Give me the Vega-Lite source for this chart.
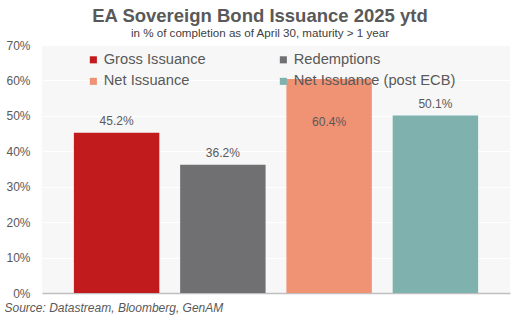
{
  "$schema": "https://vega.github.io/schema/vega-lite/v6.json",
  "width": 468,
  "height": 248,
  "autosize": {"type": "none"},
  "padding": {"left": 42, "top": 45, "right": 2, "bottom": 29},
  "background": "white",
  "title": {
    "text": "EA Sovereign Bond Issuance 2025 ytd",
    "subtitle": "in % of completion as of April 30, maturity > 1 year",
    "anchor": "middle",
    "frame": "group",
    "dx": -16,
    "offset": -1,
    "font": "Liberation Sans",
    "fontSize": 18.5,
    "fontWeight": "bold",
    "color": "#595959",
    "subtitleFont": "Liberation Sans",
    "subtitleFontSize": 11.6,
    "subtitleColor": "#404040",
    "subtitlePadding": 3
  },
  "data": {
    "values": [
      {"series": "Gross Issuance", "share": 0.452},
      {"series": "Redemptions", "share": 0.362},
      {"series": "Net Issuance", "share": 0.604},
      {"series": "Net Issuance (post ECB)", "share": 0.501}
    ]
  },
  "encoding": {
    "x": {
      "field": "series",
      "type": "nominal",
      "sort": null,
      "scale": {"paddingInner": 0.196, "paddingOuter": 0.3},
      "axis": {
        "labels": false,
        "ticks": false,
        "domain": true,
        "domainColor": "#bfbfbf",
        "domainWidth": 1.5,
        "grid": false,
        "title": "Source: Datastream, Bloomberg, GenAM",
        "titleFont": "Liberation Sans",
        "titleFontSize": 12,
        "titleFontStyle": "italic",
        "titleFontWeight": "normal",
        "titleColor": "#595959",
        "titleAnchor": "start",
        "titleAlign": "left",
        "titleBaseline": "middle",
        "titleX": -38,
        "titleY": 14
      }
    },
    "y": {
      "field": "share",
      "type": "quantitative",
      "scale": {"domain": [0, 0.7], "nice": false},
      "axis": {
        "values": [0, 0.1, 0.2, 0.3, 0.4, 0.5, 0.6, 0.7],
        "format": ".0%",
        "title": null,
        "domain": false,
        "ticks": false,
        "labelPadding": 12,
        "labelFont": "Liberation Sans",
        "labelFontSize": 12,
        "labelColor": "#595959",
        "gridColor": "#ffffff",
        "gridWidth": 1
      }
    }
  },
  "layer": [
    {
      "mark": {"type": "bar"},
      "encoding": {
        "color": {
          "field": "series",
          "type": "nominal",
          "sort": null,
          "scale": {
            "domain": ["Gross Issuance", "Redemptions", "Net Issuance", "Net Issuance (post ECB)"],
            "range": ["#c11b1e", "#707072", "#f09274", "#7fb2af"]
          },
          "legend": {
            "title": null,
            "orient": "none",
            "legendX": 44,
            "legendY": 7,
            "direction": "horizontal",
            "columns": 2,
            "columnPadding": 70,
            "rowPadding": 6,
            "padding": 0,
            "symbolType": "square",
            "symbolSize": 50,
            "symbolStrokeWidth": 0,
            "labelOffset": 3,
            "labelFont": "Liberation Sans",
            "labelFontSize": 14.7,
            "labelColor": "#595959",
            "labelLimit": 300
          }
        }
      }
    },
    {
      "transform": [{"filter": "datum.series !== 'Net Issuance'"}],
      "mark": {
        "type": "text",
        "baseline": "bottom",
        "dy": -5,
        "font": "Liberation Sans",
        "fontSize": 12,
        "color": "#595959"
      },
      "encoding": {
        "text": {"field": "share", "type": "quantitative", "format": ".1%"}
      }
    },
    {
      "transform": [{"filter": "datum.series === 'Net Issuance'"}],
      "mark": {
        "type": "text",
        "baseline": "middle",
        "dy": 43,
        "font": "Liberation Sans",
        "fontSize": 12,
        "color": "#595959"
      },
      "encoding": {
        "text": {"field": "share", "type": "quantitative", "format": ".1%"}
      }
    }
  ],
  "config": {
    "view": {"fill": "#f7f7f7", "stroke": null}
  }
}
